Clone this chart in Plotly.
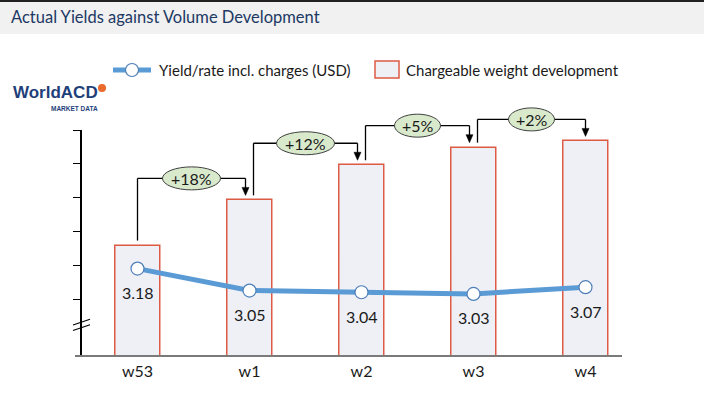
import plotly.graph_objects as go

# ---------------- data ----------------
weeks = ["w53", "w1", "w2", "w3", "w4"]
yield_usd = [3.18, 3.05, 3.04, 3.03, 3.07]          # Yield/rate incl. charges (USD)
weight_index = [100, 118, 132, 139, 141.5]           # Chargeable weight development (index, w53 = 100)
growth_labels = ["+18%", "+12%", "+5%", "+2%"]
yield_ticks = [3.0, 3.2, 3.4, 3.6, 3.8, 4.0]

# ---------------- layout geometry (pixels) ----------------
W, H = 704, 393
PX0, PX1 = 81.5, 641.5      # plot area left/right
PY0, PY1 = 130, 356         # plot area top/bottom
yield_range = [2.6627, 4.0]
weight_range = [56, 146.04]
x_range = [-0.5, len(weeks) - 0.5]

FONT = "Lato"
TXT = "#1a1a1a"
BLUE = "#5b9bd5"
BAR_FILL = "#eef0f6"
BAR_LINE = "#dd5a44"
GREEN = "#d8e9cc"
NAVY = "#203864"


def fx(px):
    return px / W


def fy(py):
    return 1 - py / H


dx = (x_range[1] - x_range[0]) / (PX1 - PX0)            # x units per pixel
dy = (weight_range[1] - weight_range[0]) / (PY1 - PY0)  # weight units per pixel


def xpix(v):
    return PX0 + (v - x_range[0]) / dx


def wpix(v):
    return PY1 - (v - weight_range[0]) / dy


xs = list(range(len(weeks)))

fig = go.Figure()

fig.add_trace(go.Bar(
    x=xs, y=weight_index, yaxis="y",
    width=45 * dx,
    marker=dict(color=BAR_FILL, line=dict(color=BAR_LINE, width=1.5)),
    showlegend=False, hoverinfo="skip",
))

fig.add_trace(go.Scatter(
    x=xs, y=yield_usd, yaxis="y2", mode="lines+markers",
    line=dict(color=BLUE, width=5),
    marker=dict(size=13, color="white", line=dict(color="#4f7fb8", width=1.2)),
    showlegend=False, hoverinfo="skip",
))

shapes = []
annotations = []

# title bar
shapes.append(dict(type="rect", xref="paper", yref="paper", x0=0, x1=1, y0=fy(34), y1=1,
                   fillcolor="#f1f1f1", line=dict(width=0), layer="below"))
shapes.append(dict(type="rect", xref="paper", yref="paper", x0=0, x1=1, y0=fy(2), y1=1,
                   fillcolor="#222222", line=dict(width=0), layer="below"))
annotations.append(dict(text="Actual Yields against Volume Development", xref="paper", yref="paper",
                        x=fx(9), y=fy(17), xanchor="left", yanchor="middle", showarrow=False,
                        font=dict(family=FONT, size=16.5, color=NAVY)))

# logo
annotations.append(dict(text="<b>WorldACD</b>", xref="paper", yref="paper",
                        x=fx(11), y=fy(92), xanchor="left", yanchor="middle", showarrow=False,
                        font=dict(family="Liberation Sans", size=17, color="#1f3f7a")))
shapes.append(dict(type="circle", xref="paper", yref="paper", x0=fx(98), x1=fx(106), y0=fy(84), y1=fy(92),
                   fillcolor="#ec6a2c", line=dict(width=0)))
annotations.append(dict(text="<b>MARKET DATA</b>", xref="paper", yref="paper",
                        x=fx(74), y=fy(108), xanchor="center", yanchor="middle", showarrow=False,
                        font=dict(family="Liberation Sans", size=6.5, color="#1f3f7a")))

# legend (manual)
shapes.append(dict(type="line", xref="paper", yref="paper", x0=fx(113), x1=fx(151), y0=fy(70), y1=fy(70),
                   line=dict(color=BLUE, width=5)))
shapes.append(dict(type="circle", xref="paper", yref="paper", x0=fx(125.5), x1=fx(138.5), y0=fy(63.5), y1=fy(76.5),
                   fillcolor="white", line=dict(color="#4f7fb8", width=1.2)))
annotations.append(dict(text="Yield/rate incl. charges (USD)", xref="paper", yref="paper",
                        x=fx(157), y=fy(70), xanchor="left", yanchor="middle", showarrow=False,
                        font=dict(family=FONT, size=15, color=TXT)))
shapes.append(dict(type="rect", xref="paper", yref="paper", x0=fx(375), x1=fx(399), y0=fy(78), y1=fy(61),
                   fillcolor=BAR_FILL, line=dict(color=BAR_LINE, width=1.5)))
annotations.append(dict(text="Chargeable weight development", xref="paper", yref="paper",
                        x=fx(404), y=fy(70), xanchor="left", yanchor="middle", showarrow=False,
                        font=dict(family=FONT, size=15, color=TXT)))

# x baseline and axis break
shapes.append(dict(type="line", xref="paper", yref="paper", x0=fx(75), x1=fx(622), y0=fy(PY1), y1=fy(PY1),
                   line=dict(color="#7a7a7a", width=2)))
for off in (0, 5.5):
    shapes.append(dict(type="line", xref="paper", yref="paper",
                       x0=fx(73), x1=fx(90), y0=fy(325 + off), y1=fy(319.3 + off),
                       line=dict(color="black", width=1.2)))

# yield data labels
for i, v in enumerate(yield_usd):
    annotations.append(dict(text=f"{v:.2f}", x=xs[i], y=v, xref="x", yref="y2", yshift=-24,
                            showarrow=False, xanchor="center", yanchor="middle",
                            font=dict(family=FONT, size=16, color=TXT)))

# growth connectors (drawn in paper space so they are not clipped by the plot area)
n = len(weeks)
line_style = dict(color="black", width=1.3)
for i, lab in enumerate(growth_labels):
    src, dst = i, i + 1
    x_out = xpix(xs[src]) + (4 if src > 0 else 0)
    x_in = xpix(xs[dst]) - (4 if dst < n - 1 else 0)
    y_start = wpix(weight_index[src]) - 5
    y_h = wpix(weight_index[dst]) - 22
    y_tip = wpix(weight_index[dst]) - 5
    segs = [(x_out, y_start, x_out, y_h), (x_out, y_h, x_in, y_h), (x_in, y_h, x_in, y_tip - 6)]
    for (a, b, c, d) in segs:
        shapes.append(dict(type="line", xref="paper", yref="paper",
                           x0=fx(a), y0=fy(b), x1=fx(c), y1=fy(d), line=line_style))
    shapes.append(dict(type="path", xref="paper", yref="paper",
                       path=f"M {fx(x_in - 3.5)},{fy(y_tip - 8)} L {fx(x_in + 3.5)},{fy(y_tip - 8)} "
                            f"L {fx(x_in)},{fy(y_tip)} Z",
                       fillcolor="black", line=dict(color="black", width=0.5)))
    wpx = 12 * len(lab) + 10
    xc = (x_out + x_in) / 2
    shapes.append(dict(type="circle", xref="paper", yref="paper",
                       x0=fx(xc - wpx / 2), x1=fx(xc + wpx / 2), y0=fy(y_h + 11.5), y1=fy(y_h - 11.5),
                       fillcolor=GREEN, line=dict(color="#404040", width=1)))
    annotations.append(dict(text=lab, x=fx(xc), y=fy(y_h), xref="paper", yref="paper", showarrow=False,
                            xanchor="center", yanchor="middle",
                            font=dict(family=FONT, size=16, color=TXT)))

fig.update_layout(
    width=W, height=H,
    margin=dict(l=0, r=0, t=0, b=0),
    paper_bgcolor="white", plot_bgcolor="rgba(0,0,0,0)",
    bargap=0,
    xaxis=dict(domain=[fx(PX0), fx(PX1)], range=x_range, tickvals=xs, ticktext=weeks,
               showgrid=False, zeroline=False, showline=False, ticks="",
               ticklabelstandoff=4,
               tickfont=dict(family=FONT, size=16, color=TXT)),
    yaxis=dict(domain=[fy(PY1), fy(PY0)], range=weight_range, visible=False,
               showgrid=False, zeroline=False),
    yaxis2=dict(overlaying="y", side="left", anchor="x", range=yield_range,
                tickvals=yield_ticks, showticklabels=False, ticks="outside", ticklen=7,
                tickwidth=1.3, tickcolor="black", showline=True, linecolor="black", linewidth=1.5,
                showgrid=False, zeroline=False),
    shapes=shapes, annotations=annotations,
)

fig.write_html("out.html", config={"displayModeBar": False},
               post_script="document.body.style.margin='0';document.body.style.overflow='hidden';")
